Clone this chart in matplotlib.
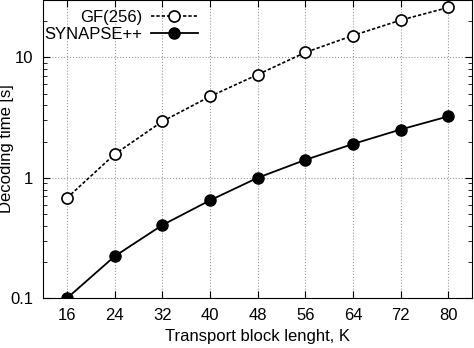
import matplotlib.pyplot as plt
from matplotlib.ticker import LogLocator, NullFormatter, FixedLocator

plt.rcParams['font.family'] = ['Liberation Sans', 'DejaVu Sans']

block_len = [16, 24, 32, 40, 48, 56, 64, 72, 80]
gf256 = [0.68, 1.57, 2.94, 4.74, 7.2, 11.0, 15.2, 20.4, 26.0]
synapse = [0.10, 0.223, 0.405, 0.65, 1.0, 1.41, 1.91, 2.52, 3.24]

fig = plt.figure(figsize=(4.74, 3.48), dpi=100)
ax = fig.add_axes([0.091, 0.143, 0.905, 0.857])

ax.plot(block_len, gf256, linestyle=(0, (2, 1.2)), color='black', lw=1.2,
        marker='o', markersize=8, markerfacecolor='white',
        markeredgecolor='black', markeredgewidth=1.2, label='GF(256)')
ax.plot(block_len, synapse, linestyle='-', color='black', lw=1.3,
        marker='o', markersize=8, markerfacecolor='black',
        markeredgecolor='black', label='SYNAPSE++')

ax.set_yscale('log')
ax.set_xlim(12, 84)
ax.set_ylim(0.1, 30)
ax.xaxis.set_major_locator(FixedLocator(block_len))
ax.set_yticks([0.1, 1, 10])
ax.set_yticklabels(['0.1', '1', '10'])
ax.yaxis.set_minor_locator(LogLocator(base=10, subs=range(2, 10)))
ax.yaxis.set_minor_formatter(NullFormatter())

ax.tick_params(which='both', direction='in', top=True, right=True, labelsize=12)
ax.tick_params(which='major', length=5, pad=7)
ax.tick_params(which='minor', length=3)
ax.grid(True, which='major', linestyle=':', color='#999999', lw=0.8)

ax.set_xlabel('Transport block lenght, K', fontsize=12, labelpad=4)
ax.set_ylabel('Decoding time [s]', fontsize=12)
ax.yaxis.set_label_coords(-0.068, 0.5)

ax.legend(loc='upper left', bbox_to_anchor=(-0.02, 1.0), markerfirst=False,
          frameon=False, fontsize=12, handlelength=2.8, handletextpad=0.5,
          labelspacing=0.1, borderaxespad=0.2)

fig.savefig('out.png', dpi=100)
